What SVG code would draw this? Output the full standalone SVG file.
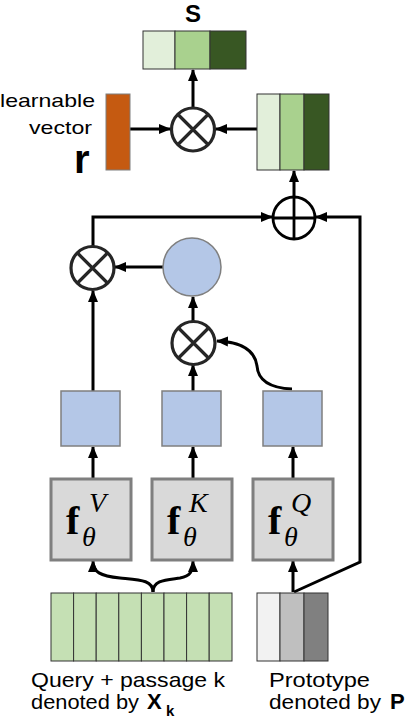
<svg xmlns="http://www.w3.org/2000/svg" width="408" height="720" viewBox="0 0 408 720">
<style>
.line{fill:none;stroke:#000;stroke-width:3}
.op{fill:#fff;stroke:#262626;stroke-width:3.2}
.opl{stroke:#262626;stroke-width:3.2}
.blue{fill:#b4c7e7;stroke:#7f7f7f;stroke-width:1.5}
.fbox{fill:#d9d9d9;stroke:#7f7f7f;stroke-width:3}
.cell{stroke:#333;stroke-width:1}
.lbl{font-family:"Liberation Sans",Arial,sans-serif;fill:#000}
.fb{font-family:"Liberation Serif","Times New Roman",serif;font-weight:bold;font-size:40px}
.it{font-family:"Liberation Serif","Times New Roman",serif;font-style:italic;font-size:28px}
</style>
<defs>
<marker id="ah" markerUnits="userSpaceOnUse" markerWidth="12" markerHeight="12" viewBox="0 0 12 12" refX="11" refY="6" orient="auto">
<path d="M0,1 L12,6 L0,11 Z" fill="#000"/>
</marker>
</defs>
<g id="connectors">
<line class="line" x1="193" y1="107" x2="193" y2="70" marker-end="url(#ah)"/>
<line class="line" x1="130" y1="129" x2="170" y2="129" marker-end="url(#ah)"/>
<line class="line" x1="257" y1="129" x2="216" y2="129" marker-end="url(#ah)"/>
<line class="line" x1="294" y1="197" x2="294" y2="171" marker-end="url(#ah)"/>
<path class="line" d="M93 247 V217 H272" marker-end="url(#ah)"/>
<path class="line" d="M294 592 L360 562 V217 H316" marker-end="url(#ah)"/>
<line class="line" x1="163" y1="267" x2="115" y2="267" marker-end="url(#ah)"/>
<line class="line" x1="193" y1="322" x2="193" y2="297" marker-end="url(#ah)"/>
<path class="line" d="M292 389 C270 388 258 380 257 366 C255 350 240 342 217 341" marker-end="url(#ah)"/>
<line class="line" x1="93" y1="391" x2="93" y2="291" marker-end="url(#ah)"/>
<line class="line" x1="193" y1="391" x2="193" y2="365" marker-end="url(#ah)"/>
<line class="line" x1="93" y1="479" x2="93" y2="447" marker-end="url(#ah)"/>
<line class="line" x1="193" y1="479" x2="193" y2="447" marker-end="url(#ah)"/>
<line class="line" x1="293" y1="479" x2="293" y2="447" marker-end="url(#ah)"/>
<path class="line" d="M153 592 C153 580 140 580 120 578 C100 576 93 572 93 561" marker-end="url(#ah)"/>
<path class="line" d="M153 592 C153 580 166 580 180 578 C190 576 193 572 193 561" marker-end="url(#ah)"/>
<line class="line" x1="293" y1="592" x2="293" y2="561" marker-end="url(#ah)"/>
</g>
<g id="output-s">
<text class="lbl" x="193" y="22" font-size="24" font-weight="bold" text-anchor="middle">S</text>
<rect x="143" y="31" width="32" height="38" fill="#e2efda" class="cell"/>
<rect x="175" y="31" width="35" height="38" fill="#a9d18e" class="cell"/>
<rect x="210" y="31" width="36" height="38" fill="#385723" class="cell"/>
</g>
<g id="vector-r">
<text class="lbl" x="95" y="107" font-size="19" text-anchor="end" textLength="95" lengthAdjust="spacingAndGlyphs">learnable</text>
<text class="lbl" x="92" y="134" font-size="19" text-anchor="end" textLength="63" lengthAdjust="spacingAndGlyphs">vector</text>
<text class="lbl" x="74" y="173" font-size="40" font-weight="bold">r</text>
<rect x="106" y="94" width="24" height="76" fill="#c55a11" stroke="#7f7f7f" stroke-width="1"/>
</g>
<g id="mult-top">
<circle class="op" cx="193" cy="129.5" r="21.5"/>
<path class="opl" d="M178 114.5 L208 144.5 M208 114.5 L178 144.5"/>
</g>
<g id="combined-bar">
<rect x="257" y="94" width="23" height="76" fill="#e2efda" class="cell"/>
<rect x="280" y="94" width="24" height="76" fill="#a9d18e" class="cell"/>
<rect x="304" y="94" width="25" height="76" fill="#385723" class="cell"/>
</g>
<g id="add">
<circle cx="294" cy="218" r="21" fill="#fff" stroke="#000" stroke-width="2.8"/>
<path d="M273 218 H315 M294 197 V239" stroke="#000" stroke-width="2.8"/>
</g>
<g id="mult-left">
<circle class="op" cx="92.5" cy="268" r="21.5"/>
<path class="opl" d="M77.5 253 L107.5 283 M107.5 253 L77.5 283"/>
</g>
<g id="softmax">
<circle class="blue" cx="192" cy="267" r="29"/>
</g>
<g id="mult-mid">
<circle class="op" cx="193.5" cy="343" r="21.5"/>
<path class="opl" d="M178.5 328 L208.5 358 M208.5 328 L178.5 358"/>
</g>
<g id="v-out"><rect class="blue" x="61" y="391" width="59" height="55"/></g>
<g id="k-out"><rect class="blue" x="162" y="391" width="59" height="55"/></g>
<g id="q-out"><rect class="blue" x="263" y="391" width="59" height="55"/></g>
<g id="f-v">
<rect class="fbox" x="51" y="479" width="80" height="81"/>
<text class="fb" x="66" y="534">f</text>
<text class="it" x="89" y="512">V</text>
<text class="it" x="82" y="546">θ</text>
</g>
<g id="f-k">
<rect class="fbox" x="152" y="479" width="80" height="81"/>
<text class="fb" x="167" y="534">f</text>
<text class="it" x="189" y="512">K</text>
<text class="it" x="183" y="546">θ</text>
</g>
<g id="f-q">
<rect class="fbox" x="253" y="479" width="80" height="81"/>
<text class="fb" x="268" y="534">f</text>
<text class="it" x="291" y="512">Q</text>
<text class="it" x="284" y="546">θ</text>
</g>
<g id="input-x">
<rect x="51" y="593" width="22.6" height="68" fill="#c5e0b4" class="cell"/>
<rect x="73.6" y="593" width="22.6" height="68" fill="#c5e0b4" class="cell"/>
<rect x="96.2" y="593" width="22.6" height="68" fill="#c5e0b4" class="cell"/>
<rect x="118.8" y="593" width="22.6" height="68" fill="#c5e0b4" class="cell"/>
<rect x="141.4" y="593" width="22.6" height="68" fill="#c5e0b4" class="cell"/>
<rect x="164" y="593" width="22.6" height="68" fill="#c5e0b4" class="cell"/>
<rect x="186.6" y="593" width="22.6" height="68" fill="#c5e0b4" class="cell"/>
<rect x="209.2" y="593" width="22.8" height="68" fill="#c5e0b4" class="cell"/>
<text class="lbl" x="31" y="687" font-size="21" textLength="194" lengthAdjust="spacingAndGlyphs">Query + passage k</text>
<text class="lbl" x="31" y="709" font-size="21" textLength="108" lengthAdjust="spacingAndGlyphs">denoted by</text>
<text class="lbl" x="147" y="709" font-size="22" font-weight="bold">X</text>
<text class="lbl" x="166" y="716" font-size="15" font-weight="bold">k</text>
</g>
<g id="prototype-p">
<rect x="257" y="593" width="23" height="68" fill="#f2f2f2" class="cell"/>
<rect x="280" y="593" width="24" height="68" fill="#bfbfbf" class="cell"/>
<rect x="304" y="593" width="24" height="68" fill="#808080" class="cell"/>
<text class="lbl" x="269" y="687" font-size="21" textLength="101" lengthAdjust="spacingAndGlyphs">Prototype</text>
<text class="lbl" x="269" y="709" font-size="21" textLength="112" lengthAdjust="spacingAndGlyphs">denoted by</text>
<text class="lbl" x="390" y="709" font-size="22" font-weight="bold">P</text>
</g>
</svg>
